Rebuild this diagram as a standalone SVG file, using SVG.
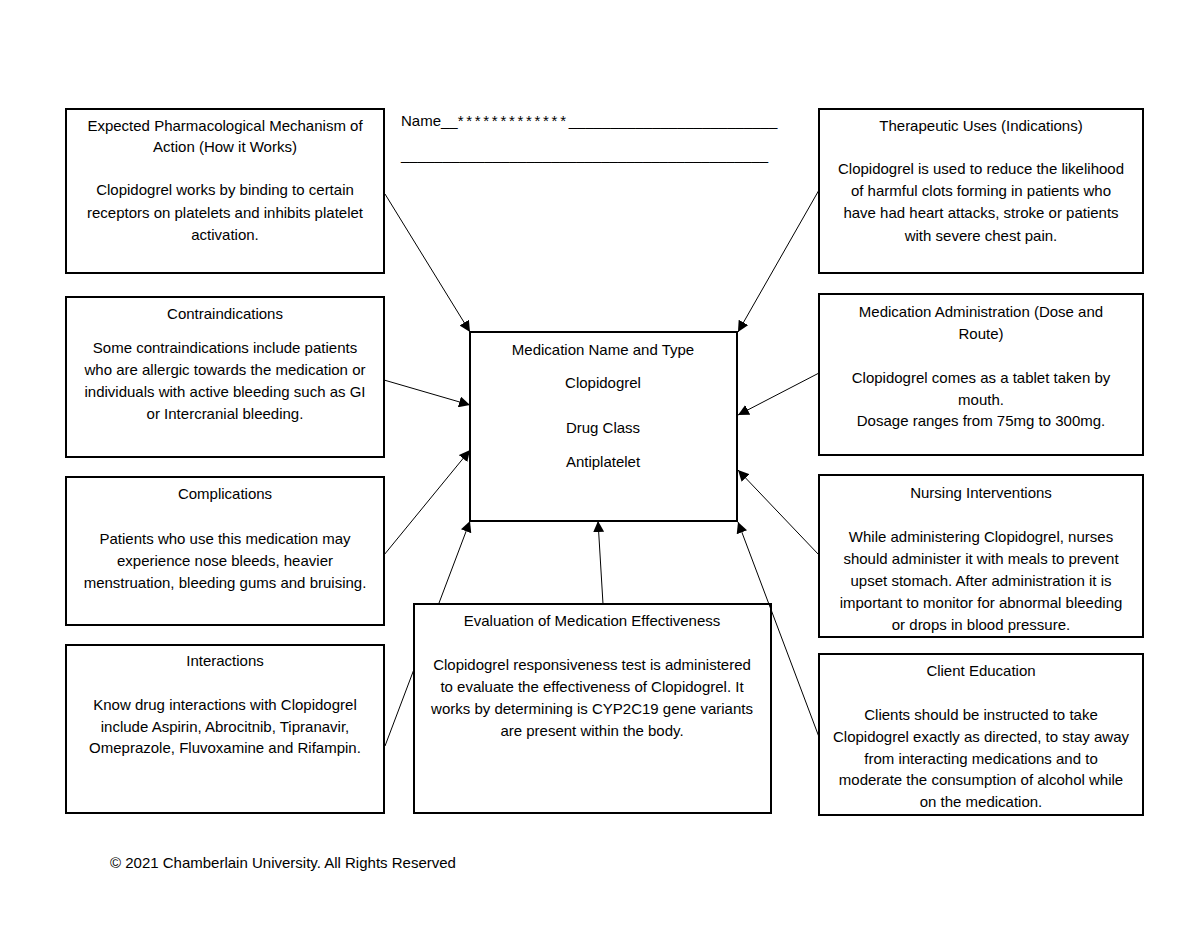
<svg xmlns="http://www.w3.org/2000/svg" width="1200" height="927" viewBox="0 0 1200 927">
<style>
.box{fill:#fff;stroke:#000;stroke-width:2}
.t{font-family:"Liberation Sans",Arial,sans-serif;font-size:15px;fill:#000;text-anchor:middle}
.l{text-anchor:start}
.c{stroke:#000;stroke-width:1;fill:none}
</style>
<defs>
<marker id="ah" viewBox="0 0 10 10" refX="10" refY="5" markerWidth="11" markerHeight="11" markerUnits="userSpaceOnUse" orient="auto">
<path d="M0,0 L10,5 L0,10 z" fill="#000"/>
</marker>
</defs>
<rect width="1200" height="927" fill="#fff"/>
<g id="connectors">
<line class="c" x1="385" y1="194" x2="470" y2="332" marker-end="url(#ah)"/>
<line class="c" x1="384" y1="380" x2="470" y2="405" marker-end="url(#ah)"/>
<line class="c" x1="384" y1="555" x2="470" y2="450" marker-end="url(#ah)"/>
<line class="c" x1="385" y1="746" x2="470" y2="521" marker-end="url(#ah)"/>
<line class="c" x1="603" y1="604" x2="598" y2="521" marker-end="url(#ah)"/>
<line class="c" x1="819" y1="190" x2="738" y2="332" marker-end="url(#ah)"/>
<line class="c" x1="819" y1="373" x2="738" y2="415" marker-end="url(#ah)"/>
<line class="c" x1="819" y1="555" x2="738" y2="470" marker-end="url(#ah)"/>
</g>
<g id="mechanism">
<rect class="box" x="66" y="109" width="318" height="164"/>
<text class="t" x="225" y="131">Expected Pharmacological Mechanism of</text>
<text class="t" x="225" y="152">Action (How it Works)</text>
<text class="t" x="225" y="195">Clopidogrel works by binding to certain</text>
<text class="t" x="225" y="218">receptors on platelets and inhibits platelet</text>
<text class="t" x="225" y="240">activation.</text>
</g>
<g id="contraindications">
<rect class="box" x="66" y="297" width="318" height="160"/>
<text class="t" x="225" y="319">Contraindications</text>
<text class="t" x="225" y="353">Some contraindications include patients</text>
<text class="t" x="225" y="375">who are allergic towards the medication or</text>
<text class="t" x="225" y="397">individuals with active bleeding such as GI</text>
<text class="t" x="225" y="419">or Intercranial bleeding.</text>
</g>
<g id="complications">
<rect class="box" x="66" y="477" width="318" height="148"/>
<text class="t" x="225" y="499">Complications</text>
<text class="t" x="225" y="544">Patients who use this medication may</text>
<text class="t" x="225" y="566">experience nose bleeds, heavier</text>
<text class="t" x="225" y="588">menstruation, bleeding gums and bruising.</text>
</g>
<g id="interactions">
<rect class="box" x="66" y="645" width="318" height="168"/>
<text class="t" x="225" y="666">Interactions</text>
<text class="t" x="225" y="710">Know drug interactions with Clopidogrel</text>
<text class="t" x="225" y="732">include Aspirin, Abrocitnib, Tipranavir,</text>
<text class="t" x="225" y="753">Omeprazole, Fluvoxamine and Rifampin.</text>
</g>
<g id="name">
<text class="t l" x="401" y="126">Name__<tspan letter-spacing="2.7">*************</tspan>_________________________</text>
<text class="t l" x="401" y="160">____________________________________________</text>
</g>
<g id="center">
<rect class="box" x="470" y="332" width="267" height="189"/>
<text class="t" x="603" y="355">Medication Name and Type</text>
<text class="t" x="603" y="388">Clopidogrel</text>
<text class="t" x="603" y="433">Drug Class</text>
<text class="t" x="603" y="467">Antiplatelet</text>
</g>
<g id="evaluation">
<rect class="box" x="414" y="604" width="357" height="209"/>
<text class="t" x="592" y="626">Evaluation of Medication Effectiveness</text>
<text class="t" x="592" y="670">Clopidogrel responsiveness test is administered</text>
<text class="t" x="592" y="692">to evaluate the effectiveness of Clopidogrel. It</text>
<text class="t" x="592" y="714">works by determining is CYP2C19 gene variants</text>
<text class="t" x="592" y="736">are present within the body.</text>
</g>
<g id="therapeutic">
<rect class="box" x="819" y="109" width="324" height="164"/>
<text class="t" x="981" y="131">Therapeutic Uses (Indications)</text>
<text class="t" x="981" y="174">Clopidogrel is used to reduce the likelihood</text>
<text class="t" x="981" y="196">of harmful clots forming in patients who</text>
<text class="t" x="981" y="218">have had heart attacks, stroke or patients</text>
<text class="t" x="981" y="241">with severe chest pain.</text>
</g>
<g id="administration">
<rect class="box" x="819" y="294" width="324" height="161"/>
<text class="t" x="981" y="317">Medication Administration (Dose and</text>
<text class="t" x="981" y="339">Route)</text>
<text class="t" x="981" y="383">Clopidogrel comes as a tablet taken by</text>
<text class="t" x="981" y="405">mouth.</text>
<text class="t" x="981" y="426">Dosage ranges from 75mg to 300mg.</text>
</g>
<g id="nursing">
<rect class="box" x="819" y="475" width="324" height="162"/>
<text class="t" x="981" y="498">Nursing Interventions</text>
<text class="t" x="981" y="542">While administering Clopidogrel, nurses</text>
<text class="t" x="981" y="564">should administer it with meals to prevent</text>
<text class="t" x="981" y="586">upset stomach. After administration it is</text>
<text class="t" x="981" y="608">important to monitor for abnormal bleeding</text>
<text class="t" x="981" y="630">or drops in blood pressure.</text>
</g>
<g id="education">
<rect class="box" x="819" y="654" width="324" height="161"/>
<text class="t" x="981" y="676">Client Education</text>
<text class="t" x="981" y="720">Clients should be instructed to take</text>
<text class="t" x="981" y="742">Clopidogrel exactly as directed, to stay away</text>
<text class="t" x="981" y="764">from interacting medications and to</text>
<text class="t" x="981" y="785">moderate the consumption of alcohol while</text>
<text class="t" x="981" y="807">on the medication.</text>
</g>
<g id="connectors-over">
<line class="c" x1="819" y1="737" x2="738" y2="522" marker-end="url(#ah)"/>
</g>
<g id="footer">
<text class="t l" x="110" y="868">© 2021 Chamberlain University. All Rights Reserved</text>
</g>
</svg>
